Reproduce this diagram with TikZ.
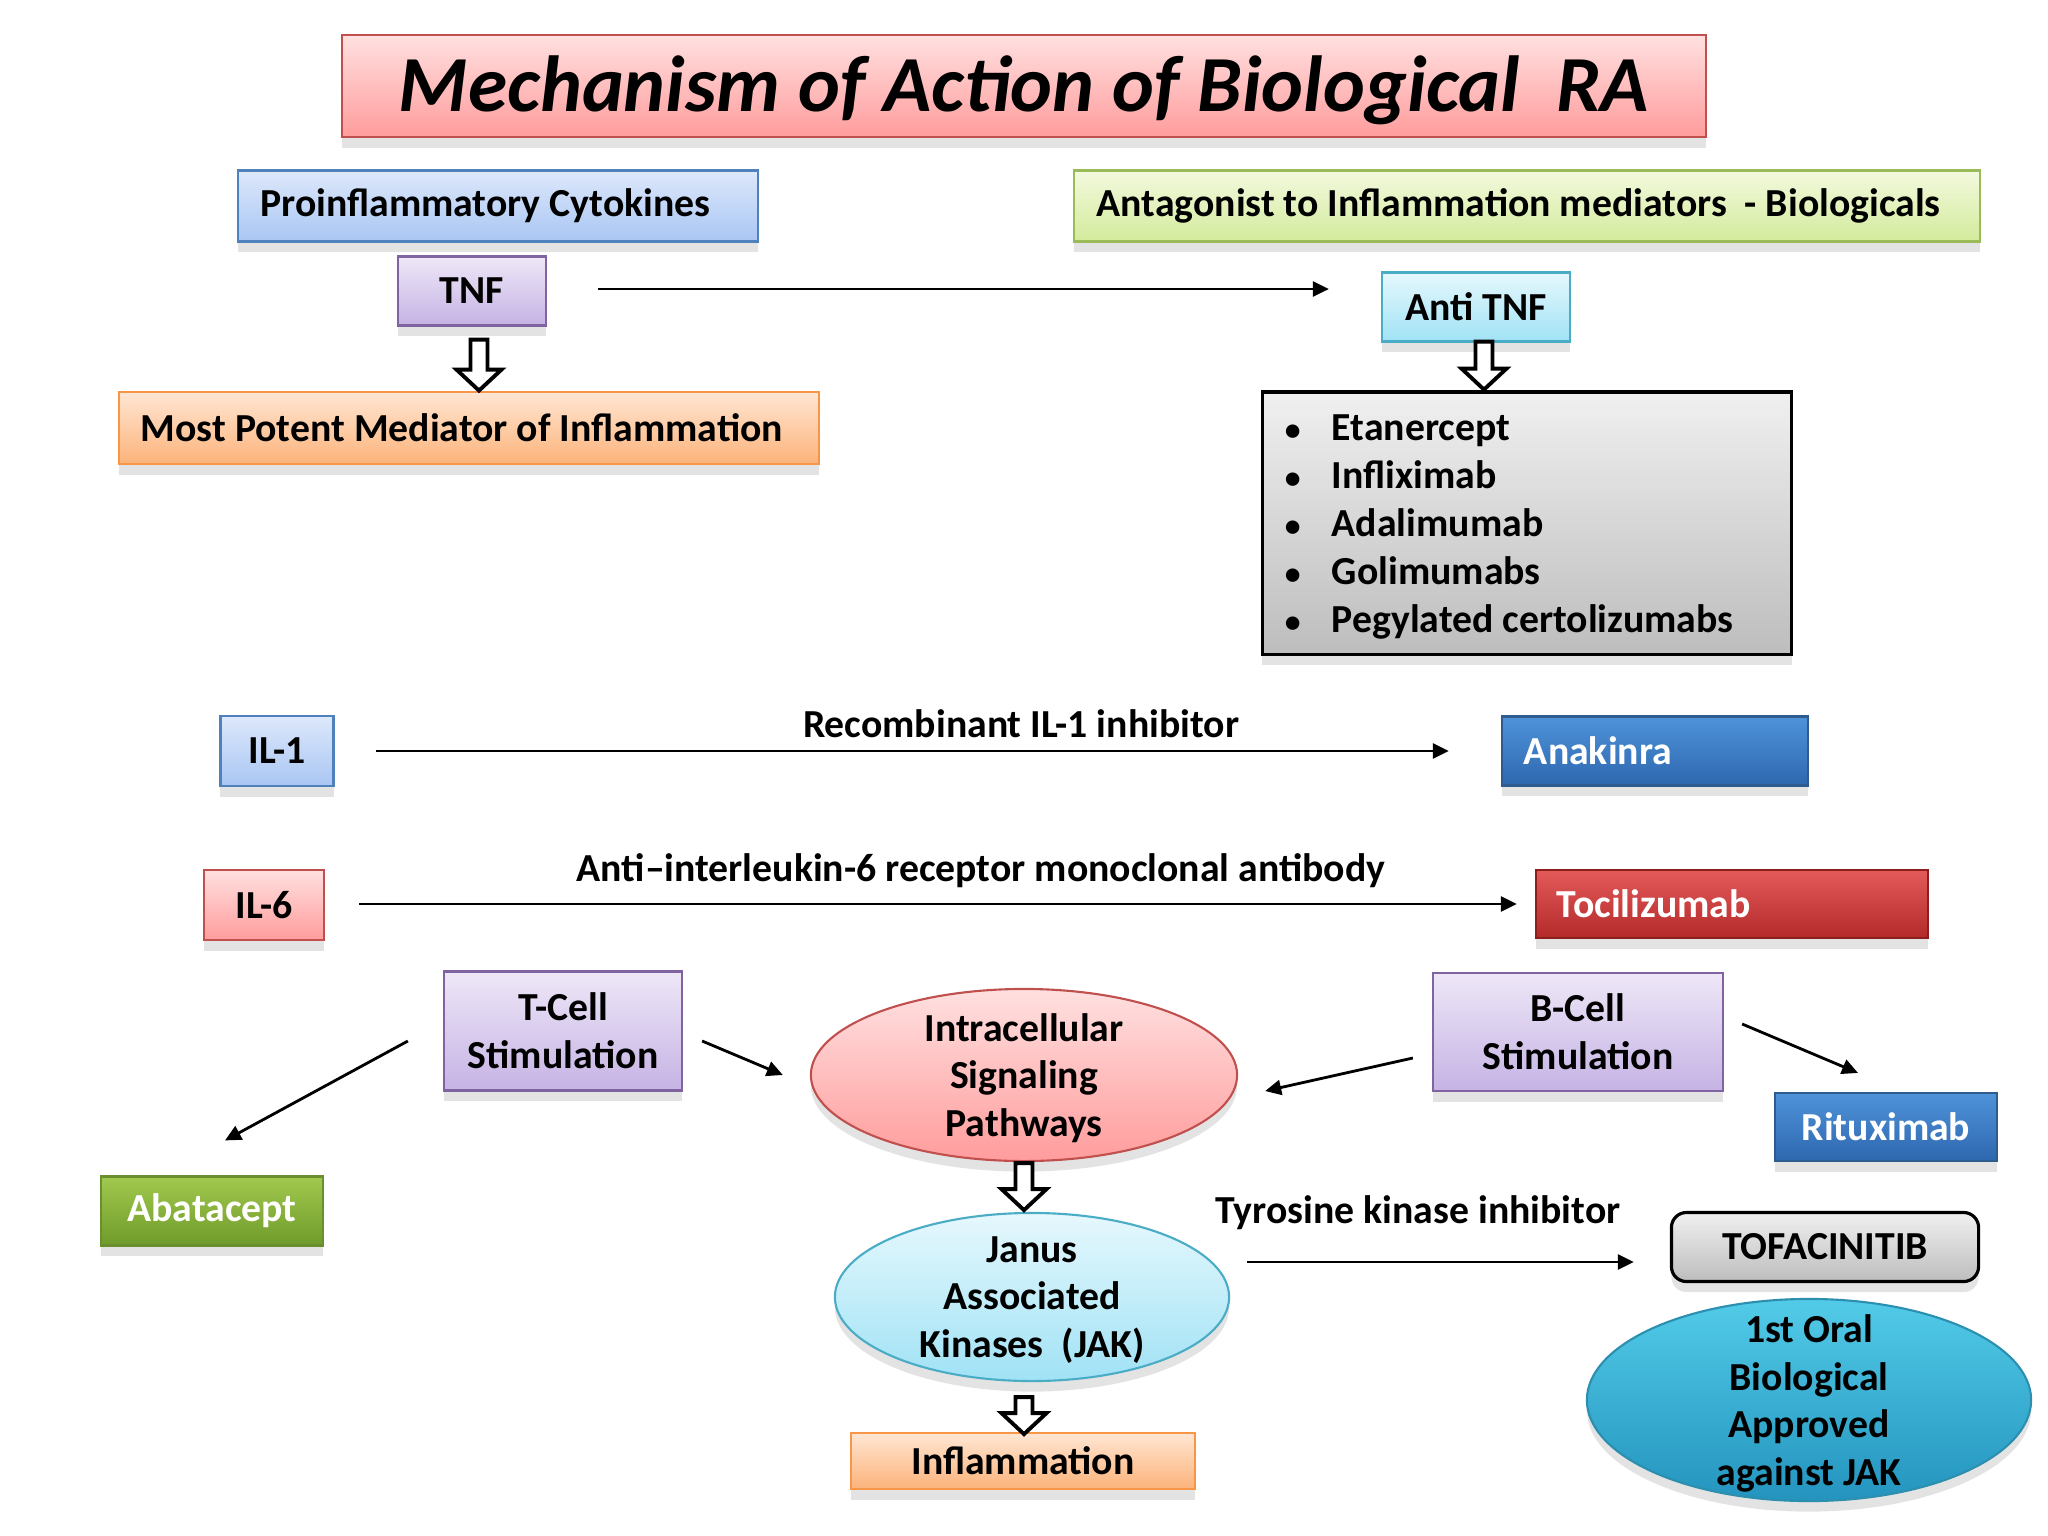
\documentclass[tikz,border=0pt]{standalone}
\usepackage{fontspec}
\setmainfont{Carlito}
\usetikzlibrary{shapes.geometric,shadows,arrows.meta,calc}
\definecolor{pinkT}{HTML}{FFE0E0}\definecolor{pinkB}{HTML}{FF9C9C}\definecolor{pinkD}{HTML}{C0504D}
\definecolor{blueT}{HTML}{DDE8FB}\definecolor{blueB}{HTML}{A9C6F3}\definecolor{blueD}{HTML}{4F81BD}
\definecolor{lilacT}{HTML}{EEE7F7}\definecolor{lilacB}{HTML}{C5B3E4}\definecolor{lilacD}{HTML}{8064A2}
\definecolor{peachT}{HTML}{FFE6D3}\definecolor{peachB}{HTML}{FCB37A}\definecolor{peachD}{HTML}{F79646}
\definecolor{limeT}{HTML}{F3F9DE}\definecolor{limeB}{HTML}{D3EB9C}\definecolor{limeD}{HTML}{9BBB59}
\definecolor{skyT}{HTML}{E6F8FD}\definecolor{skyB}{HTML}{A0E2F5}\definecolor{skyD}{HTML}{4BACC6}
\definecolor{silverT}{HTML}{F0F0F0}\definecolor{silverB}{HTML}{BDBDBD}
\definecolor{navyT}{HTML}{4F93DA}\definecolor{navyB}{HTML}{2D67AE}\definecolor{navyD}{HTML}{2F5C8F}
\definecolor{crimsonT}{HTML}{E45A5A}\definecolor{crimsonB}{HTML}{B42A2A}\definecolor{crimsonD}{HTML}{8C1E1E}
\definecolor{oliveT}{HTML}{A2C94E}\definecolor{oliveB}{HTML}{6F9B2B}\definecolor{oliveD}{HTML}{6A8F2E}
\definecolor{tealT}{HTML}{52CBE8}\definecolor{tealB}{HTML}{2494BE}\definecolor{tealD}{HTML}{2C8FAF}
\newcommand{\drugitem}[1]{\makebox[0.47cm][l]{\fontsize{9}{9}\selectfont\textbullet}#1}
\tikzset{pics/hollowdown/.style={code={
    \draw[line width=1.1pt, fill=white] (-8.5,0) -- (8.5,0) -- (8.5,#1-21) -- (22.5,#1-21)
        -- (0,#1) -- (-22.5,#1-21) -- (-8.5,#1-21) -- cycle;}}}
\begin{document}
\begin{tikzpicture}[x=0.01cm, y=-0.01cm,
        font=\fontsize{11.3}{13.6}\selectfont\bfseries,
        >={Triangle[length=0.16cm,width=0.15cm]},
        base/.style={draw, line width=0.6pt, inner sep=0pt, align=flush center,
            drop shadow={shadow xshift=0pt, shadow yshift=-3pt, opacity=0.22}},
        pinkbox/.style={base, top color=pinkT, bottom color=pinkB, draw=pinkD},
        bluebox/.style={base, top color=blueT, bottom color=blueB, draw=blueD},
        lilac/.style={base, top color=lilacT, bottom color=lilacB, draw=lilacD},
        peach/.style={base, top color=peachT, bottom color=peachB, draw=peachD},
        lime/.style={base, top color=limeT, bottom color=limeB, draw=limeD},
        sky/.style={base, top color=skyT, bottom color=skyB, draw=skyD},
        silver/.style={base, top color=silverT, bottom color=silverB, draw=black, line width=0.9pt},
        navy/.style={base, top color=navyT, bottom color=navyB, draw=navyD, text=white},
        crimson/.style={base, top color=crimsonT, bottom color=crimsonB, draw=crimsonD, text=white},
        olive/.style={base, top color=oliveT, bottom color=oliveB, draw=oliveD, text=white},
        teal/.style={base, top color=tealT, bottom color=tealB, draw=tealD},
        oval/.style={ellipse, inner xsep=0pt, inner ysep=-0.45cm, text depth=0pt},
        link/.style={->, line width=0.8pt}
    ]
    \useasboundingbox (0,0) rectangle (2048,1536);
    % top row
    \node[pinkbox, minimum width=13.64cm, minimum height=1.02cm, text depth=0.04cm,
        font=\fontsize{22.6}{27}\selectfont\bfseries\itshape] (title) at (1024,86) {Mechanism of Action of Biological\ \ RA};
    \node[bluebox, minimum width=5.19cm, minimum height=0.71cm, text width=4.75cm, align=flush left] (cyto) at (498,206) {\mbox{Proinflammatory Cytokines}};
    \node[lime, minimum width=9.05cm, minimum height=0.71cm, text width=8.6cm, align=flush left] (antag) at (1527,206) {\mbox{Antagonist to Inflammation mediators\ \ - Biologicals}};
    % TNF branch
    \node[lilac, minimum width=1.48cm, minimum height=0.69cm] (tnf) at (472,291) {TNF};
    \node[peach, minimum width=7.0cm, minimum height=0.72cm, text width=6.56cm, align=flush left] (potent) at (469,428) {\mbox{Most Potent Mediator of Inflammation}};
    \node[sky, minimum width=1.88cm, minimum height=0.69cm] (antitnf) at (1476,307) {Anti TNF};
    \node[silver, minimum width=5.29cm, minimum height=2.62cm, text width=4.84cm, align=flush left] (drugs) at (1527,523)
        {\rule{0pt}{9.6pt}\drugitem{Etanercept}\\\drugitem{Infliximab}\\\drugitem{Adalimumab}\\
         \drugitem{Golimumabs}\\\drugitem{Pegylated certolizumabs}};
    % interleukins
    \node[bluebox, minimum width=1.13cm, minimum height=0.70cm] (il1) at (277,751) {IL-1};
    \node[navy, minimum width=3.06cm, minimum height=0.69cm, text width=2.62cm, align=flush left] (anakinra) at (1655,751) {Anakinra};
    \node (il1lbl) at (1021,724) {Recombinant IL-1 inhibitor};
    \node[pinkbox, minimum width=1.20cm, minimum height=0.70cm] (il6) at (264,905) {IL-6};
    \node[crimson, minimum width=3.92cm, minimum height=0.68cm, text width=3.5cm, align=flush left] (tocili) at (1732,904) {Tocilizumab};
    \node (il6lbl) at (981,871) {Anti–interleukin-6 receptor monoclonal antibody};
    % cell stimulation and JAK
    \node[lilac, minimum width=2.38cm, minimum height=1.19cm] (tcell) at (563,1031) {T-Cell\\Stimulation};
    \node[lilac, minimum width=2.90cm, minimum height=1.18cm] (bcell) at (1578,1032) {B-Cell\\Stimulation};
    \node[pinkbox, oval, minimum width=4.26cm, minimum height=1.72cm] (intra) at (1024,1075) {Intracellular\\Signaling\\Pathways};
    \node[olive, minimum width=2.21cm, minimum height=0.69cm] (abatacept) at (212,1211) {Abatacept};
    \node[navy, minimum width=2.22cm, minimum height=0.68cm] (rituximab) at (1886,1127) {Rituximab};
    \node[sky, oval, minimum width=3.94cm, minimum height=1.68cm] (jak) at (1032,1297) {Janus\\Associated\\Kinases\ \ (JAK)};
    \node[peach, minimum width=3.43cm, minimum height=0.56cm] (inflam) at (1023,1461) {Inflammation};
    \node (tyrlbl) at (1418,1213) {Tyrosine kinase inhibitor};
    \node[silver, rounded corners=0.15cm, minimum width=3.07cm, minimum height=0.69cm] (tofa) at (1825,1247) {TOFACINITIB};
    \node[teal, oval, minimum width=4.44cm, minimum height=2.02cm] (oral) at (1809,1400) {1st Oral\\Biological\\Approved\\against JAK};
    % connectors
    \draw[link] ($(tnf.east)+(51,-2)$) -- ($(antitnf.west |- tnf.east)+(-52,-2)$);
    \draw[link] ($(il1.east)+(41,0)$) -- ($(anakinra.west)+(-52,0)$);
    \draw[link] ($(il6.east)+(34,-1)$) -- ($(tocili.west)+(-18,0)$);
    \draw[link] ($(tcell.west)+(-35,10)$) -- ($(abatacept.north)+(13,-35)$);
    \draw[link] ($(tcell.east)+(19,10)$) -- ($(intra.west)+(-27,0)$);
    \draw[link] ($(bcell.west)+(-19,26)$) -- ($(intra.east)+(27,16)$);
    \draw[link] ($(bcell.east)+(18,-8)$) -- ($(rituximab.north)+(-28,-19)$);
    \draw[link] ($(jak.east)+(17,-35)$) -- ($(tofa.west)+(-36,15)$);
    \pic at ($(tnf.south)+(7,13)$) {hollowdown=51};
    \pic at ($(antitnf.south)+(8,-1)$) {hollowdown=48};
    \pic at ($(intra.south)+(0,1)$) {hollowdown=47};
    \pic at ($(jak.south)+(-8,15)$) {hollowdown=37};
\end{tikzpicture}
\end{document}
